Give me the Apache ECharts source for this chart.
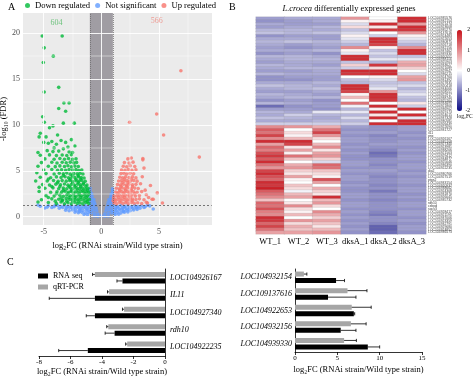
<!DOCTYPE html>
<html><head><meta charset="utf-8">
<script src="https://cdn.jsdelivr.net/npm/echarts@6/dist/echarts.min.js"></script>
<style>html,body{margin:0;padding:0;background:#fff}#c{width:474px;height:378px}</style>
</head><body><div id="c"></div><script>
const FF = "'Liberation Serif','Times New Roman',serif";

// ---------- Panel A: volcano ----------
const volXTicks = [-5, 0, 5];
const volYTicks = [0, 5, 10, 15, 20];
const volXMinor = [-2.5, 2.5, 7.5];
const volYMinor = [2.5, 7.5, 12.5, 17.5];
const fcCut = 1, fdrCut = 1.3;
const countDown = '604', countUp = '566';

const downPts = [
[-5.13,19.7],[-3.4,19.7],[-4.96,18.4],[-4.17,17.5],[-5.04,16.8],[-3.7,14.1],[-4.96,13.6],[-3.25,12.4],[-2.8,12.4],[-3.7,11.8],[-3.1,11.5],[-5.1,10.9],[-4.95,10.3],[-4.2,9.9],[-3.3,10.2],[-2.35,10.2],[-4.5,9.7],[-5.3,9.1],[-5.4,8.7],[-3.8,8.9],[-4.8,8.7],
[-5.0,8.1],[-4.6,8.0],[-4.3,8.2],[-3.9,7.9],[-3.5,8.3],[-3.1,8.1],[-2.6,8.4],[-2.3,7.7],[-4.1,7.5],[-3.3,7.4],[-2.9,7.6],[-5.5,7.0],[-4.7,7.2],[-2.5,7.0],
[-4.6,1.55],[-3.9,1.45],[-3.5,1.6],[-3.2,1.42],[-2.9,1.52],[-2.6,1.4],[-2.35,1.58],[-2.1,1.45],[-1.85,1.5],[-1.6,1.4],[-1.35,1.55],[-1.1,1.45],
[-5.2,1.85],[-4.3,1.95],[-3.7,1.9],[-3.35,1.82],[-3.05,2.0],[-2.75,1.88],[-2.5,1.96],[-2.25,1.84],[-2.0,1.92],[-1.75,1.86],[-1.5,1.98],[-1.25,1.82],[-1.05,1.9],
[-4.8,2.3],[-4.1,2.25],[-3.6,2.35],[-3.3,2.22],[-3.0,2.38],[-2.7,2.28],[-2.45,2.32],[-2.2,2.24],[-1.95,2.36],[-1.7,2.27],[-1.45,2.33],[-1.2,2.25],
[-5.4,2.75],[-4.4,2.65],[-3.85,2.72],[-3.45,2.68],[-3.15,2.78],[-2.85,2.66],[-2.6,2.74],[-2.3,2.7],[-2.05,2.64],[-1.8,2.76],[-1.55,2.69],[-1.3,2.73],[-1.08,2.66],
[-4.9,3.1],[-4.2,3.15],[-3.7,3.05],[-3.3,3.12],[-3.0,3.04],[-2.7,3.16],[-2.45,3.08],[-2.15,3.14],[-1.9,3.06],[-1.65,3.12],[-1.4,3.03],[-1.15,3.1],
[-5.1,3.5],[-4.5,3.45],[-3.95,3.55],[-3.55,3.48],[-3.2,3.56],[-2.9,3.44],[-2.6,3.52],[-2.35,3.46],[-2.05,3.54],[-1.8,3.47],[-1.55,3.53],[-1.25,3.45],
[-4.7,3.9],[-4.15,3.95],[-3.75,3.86],[-3.4,3.94],[-3.05,3.88],[-2.75,3.96],[-2.5,3.85],[-2.2,3.92],[-1.95,3.87],[-1.7,3.95],[-1.4,3.86],
[-5.3,4.3],[-4.4,4.25],[-3.9,4.34],[-3.5,4.27],[-3.15,4.36],[-2.85,4.24],[-2.55,4.33],[-2.3,4.26],[-2.0,4.35],[-1.75,4.28],[-1.5,4.22],
[-4.8,4.7],[-4.1,4.66],[-3.65,4.74],[-3.3,4.68],[-3.0,4.76],[-2.7,4.64],[-2.4,4.72],[-2.1,4.67],[-1.85,4.75],[-1.6,4.65],
[-5.0,5.1],[-4.3,5.14],[-3.8,5.06],[-3.45,5.12],[-3.1,5.05],[-2.8,5.15],[-2.5,5.08],[-2.2,5.13],[-1.95,5.04],[-1.7,5.1],
[-4.6,5.5],[-4.0,5.46],[-3.6,5.54],[-3.2,5.47],[-2.9,5.55],[-2.6,5.45],[-2.3,5.52],[-2.0,5.48],
[-5.2,5.9],[-4.3,5.94],[-3.85,5.86],[-3.4,5.93],[-3.05,5.88],[-2.7,5.95],[-2.4,5.87],[-2.15,5.92],
[-4.9,6.3],[-4.1,6.26],[-3.6,6.34],[-3.2,6.27],[-2.85,6.35],[-2.5,6.25],[-2.2,6.32],
[-5.3,6.7],[-4.5,6.74],[-3.9,6.66],[-3.4,6.72],[-3.0,6.68],[-2.6,6.75],[-4.2,7.1],[-3.7,7.15],[-2.8,7.05],
[-3.0,1.7],[-2.5,1.72],[-2.0,1.7],[-1.5,1.72],[-1.2,1.65],[-2.8,2.1],[-2.3,2.08],[-1.8,2.12],[-1.3,2.1],[-2.9,2.5],[-2.4,2.52],[-1.9,2.48],[-1.4,2.5],[-1.1,2.45],
[-2.6,2.9],[-2.1,2.92],[-1.6,2.88],[-1.2,2.9],[-2.8,3.3],[-2.3,3.32],[-1.8,3.28],[-1.35,3.3],[-2.5,3.7],[-2.0,3.72],[-1.55,3.68],[-2.7,4.1],[-2.2,4.08],[-1.8,4.12],
[-3.3,4.5],[-2.5,4.52],[-2.0,4.48],[-3.6,3.3],[-3.9,2.5],[-4.0,1.7],[-3.4,1.75],[-3.5,2.05],[-3.8,3.7],[-3.3,2.9],[-4.6,4.1],[-4.3,3.3],
[-5.5,5.5],[-5.6,4.8],[-5.7,3.9],[-5.4,3.2],[-5.5,1.6],[-4.6,2.1]
];

const upPts = [
[6.9,15.9],[4.8,11.2],[2.45,10.3],[5.4,8.9],[8.5,6.5],
[3.55,4.35],[4.26,3.4],[4.85,2.6],[4.5,1.9],[3.8,2.9],[4.1,2.1],[3.6,6.2],[2.6,6.4],[3.7,5.3],[5.3,1.5],[4.0,1.5],[3.4,3.6],
[1.1,1.5],[1.35,1.42],[1.6,1.56],[1.85,1.45],[2.1,1.53],[2.35,1.41],[2.6,1.55],[2.85,1.47],[3.15,1.52],[3.5,1.44],[3.9,1.58],
[1.2,1.9],[1.45,1.84],[1.7,1.96],[1.95,1.86],[2.2,1.94],[2.45,1.83],[2.7,1.92],[3.0,1.87],[3.3,1.95],[3.7,1.85],[4.4,1.9],
[1.1,2.3],[1.35,2.26],[1.6,2.35],[1.85,2.24],[2.1,2.33],[2.4,2.27],[2.65,2.36],[2.95,2.25],[3.3,2.32],[3.9,2.4],
[1.25,2.7],[1.5,2.66],[1.75,2.75],[2.0,2.68],[2.25,2.76],[2.5,2.65],[2.8,2.73],[3.1,2.67],[3.5,2.74],
[1.3,3.1],[1.55,3.05],[1.8,3.14],[2.05,3.06],[2.3,3.15],[2.6,3.04],[2.9,3.12],[3.2,3.07],
[1.4,3.5],[1.65,3.46],[1.9,3.54],[2.15,3.45],[2.4,3.55],[2.7,3.47],[3.0,3.53],
[1.5,3.9],[1.75,3.95],[2.0,3.86],[2.25,3.94],[2.5,3.87],[2.8,3.96],[3.1,3.88],
[1.6,4.3],[1.85,4.25],[2.1,4.34],[2.4,4.27],[2.7,4.35],[3.0,4.24],
[1.7,4.7],[1.95,4.75],[2.2,4.66],[2.5,4.73],[2.8,4.68],
[1.75,5.1],[2.05,5.05],[2.35,5.14],[2.65,5.06],[3.0,5.12],
[1.9,5.5],[2.2,5.45],[2.5,5.55],[2.9,5.48],
[2.0,5.9],[2.4,5.85],[2.75,5.95],[2.3,6.3],[3.6,6.35],
[1.2,1.7],[1.7,1.72],[2.2,1.68],[2.7,1.73],[1.5,2.1],[2.0,2.12],[2.5,2.08],[1.4,2.5],[1.9,2.52],[2.4,2.48],[2.9,2.5],[1.6,2.9],[2.1,2.92],[2.6,2.88],
[1.7,3.3],[2.2,3.32],[2.7,3.28],[1.8,3.7],[2.3,3.72],[2.6,4.1],[2.0,4.1],[1.02,1.75],[1.05,2.05]
];

const nsPts = [
[-5.3,1.15],[-4.6,1.2],[-4.1,1.1],[-3.8,1.22],[-3.5,1.12],[-3.2,1.24],[-2.9,1.14],[-2.6,1.2],[-2.3,1.1],[-2.0,1.23],[-1.7,1.13],[-1.4,1.21],[-1.1,1.12],
[1.1,1.2],[1.4,1.11],[1.7,1.23],[2.0,1.13],[2.3,1.21],[2.6,1.1],[2.9,1.22],[3.2,1.12],[3.5,1.2],[3.8,1.1],[4.2,1.18],
[-4.9,0.95],[-4.3,1.0],[-3.65,0.92],[-3.35,1.0],[-3.05,0.9],[-2.75,0.98],[-2.45,0.9],[-2.15,0.97],[-1.85,0.88],[-1.55,0.96],[-1.25,0.9],
[1.25,0.95],[1.55,0.88],[1.85,0.98],[2.15,0.9],[2.45,0.97],[2.75,0.89],[3.05,0.96],[3.35,0.92],[3.7,1.0],[4.5,0.85],
[-3.1,0.72],[-2.8,0.66],[-2.5,0.74],[-2.2,0.65],[-1.9,0.72],[-1.6,0.64],[-1.3,0.7],[1.3,0.68],[1.6,0.74],[1.9,0.65],[2.2,0.72],[2.5,0.66],[2.8,0.74],[3.1,0.8],
[-2.3,0.5],[-2.0,0.44],[-1.7,0.48],[-1.4,0.4],[-1.15,0.46],[1.15,0.42],[1.4,0.48],[1.7,0.42],[2.0,0.5],[2.3,0.52],
[-1.5,0.25],[-1.2,0.22],[1.2,0.24],[1.5,0.28],
[-0.6,0.08],[-0.3,0.05],[0,0.1],[0.3,0.06],[0.6,0.09],
[-0.9,0.4],[-0.6,0.35],[-0.3,0.3],[0.3,0.32],[0.6,0.38],[0.9,0.42],
[-0.9,0.7],[-0.65,0.72],[-0.4,0.66],[0.4,0.68],[0.65,0.74],[0.9,0.7],
[-0.95,1.0],[-0.7,1.02],[-0.45,0.96],[0.45,0.98],[0.7,1.04],[0.95,1.0],
[-0.95,1.3],[-0.75,1.28],[-0.55,1.32],[0.55,1.3],[0.75,1.26],[0.95,1.32],
[-0.95,1.6],[-0.75,1.62],[-0.6,1.55],[0.6,1.58],[0.75,1.64],[0.95,1.6],
[-0.95,1.9],[-0.8,1.92],[-0.65,1.86],[0.65,1.88],[0.8,1.94],[0.95,1.9],
[-0.97,2.2],[-0.8,2.24],[0.8,2.18],[0.97,2.22],[-0.95,2.5],[-0.85,2.54],[0.85,2.48],[0.95,2.52],
[-0.97,2.8],[0.97,2.82],[-0.98,3.1],[0.96,3.05],
[-2.6,1.05],[-2.0,1.06],[-1.4,1.05],[1.4,1.04],[2.0,1.06],[2.6,1.03],[-2.4,0.82],[-1.8,0.84],[-1.2,0.8],[1.2,0.82],[1.8,0.84],[2.4,0.8],
[-1.0,0.6],[1.0,0.6],[-1.9,0.58],[1.9,0.58],[-3.0,1.05],[3.0,1.05],[-4.0,1.25],[4.0,1.25],[-5.5,1.28],[-4.7,1.05]
];

// ---------- Panel B: heatmap ----------
const hmSamples = ['WT_1','WT_2','WT_3','dksA_1','dksA_2','dksA_3'];
const hmGenes = [
'LOC104935576','LOC104932154','LOC104921474','LOC104923608','LOC104935270','LOC109137616','LOC104924483','LOC104922653','LOC104930875','LOC104926718',
'LOC104932156','LOC104937462','LOC104939330','LOC104920551','LOC104938114','LOC104925903','LOC104933627','LOC104921089','LOC104929947','LOC104936215',
'LOC104924760','LOC104931392','LOC104927835','LOC104920418','LOC104934066','LOC104928551','LOC104922917','LOC104938740','LOC104925264','LOC104933499',
'LOC104921806','LOC104936902','LOC104929173','LOC104924015','LOC104937328','LOC104930581','LOC104926439',
'LOC104922690','LOC104931727','il11','pnx','LOC104926167','LOC104935108','LOC104927340','LOC104923981','LOC104938206','LOC104921563',
'LOC104929412','LOC104934877','LOC104925046','LOC104936390','LOC104922235','dio2','LOC104930766','LOC104927519','ptgs2','LOC104933154',
'LOC104920937','LOC104938662','LOC104924308','LOC104931870','LOC104926045','LOC104935732','rdh10','cebpd','socs3','LOC104928417',
'LOC104921195','LOC104937006','LOC104923359','LOC104932791','LOC104929680','LOC104924852','LOC104936573'
];
const wt1 = [-0.8,-0.9,-0.7,-0.8,-0.6,-0.5,-0.9,-0.7,-0.6,-0.7,-0.8,-0.7,-0.9,-0.6,-0.7,-0.8,-0.6,-0.7,-0.8,-0.6,-0.9,-0.9,-0.7,-0.5,-0.7,-0.8,-0.6,-0.7,-0.9,-0.6,-1.2,-0.8,-0.6,-0.7,-0.5,-0.7,-0.4,
1.0,1.4,1.2,1.6,1.0,1.8,0.8,1.3,1.1,1.5,1.7,1.4,1.8,1.2,0.9,1.6,1.8,1.5,1.3,1.8,1.7,1.9,1.4,1.2,1.0,0.5,1.3,1.2,1.5,1.1,1.0,1.8,1.7,1.3,1.6,1.2,0.8];
const wt2 = [-0.7,-0.8,-0.8,-0.7,-0.6,-0.6,-0.8,-0.7,-0.5,-0.8,-0.9,-0.7,-0.8,-0.6,-0.6,-0.7,-0.7,-0.6,-0.8,-0.7,-0.8,-0.9,-0.7,-0.6,-0.6,-0.8,-0.7,-0.6,-0.8,-0.7,-0.9,-0.8,-0.7,-0.4,-0.6,-0.7,-0.4,
0.9,0.0,0.3,0.1,0.6,1.8,1.6,0.2,0.8,0.1,1.2,0.5,0.0,0.7,0.9,0.4,0.2,0.8,0.1,0.0,0.5,0.3,-0.1,0.6,0.8,0.0,0.2,1.0,0.3,0.1,0.6,0.0,0.9,0.3,0.7,0.5,0.8];
const wt3 = [-0.7,-0.7,-0.8,-0.6,-0.7,-0.5,-0.8,-0.8,-0.6,-0.7,-0.8,-0.6,-0.9,-0.7,-0.6,-0.7,-0.8,-0.6,-0.7,-0.7,-0.8,-0.8,-0.6,-0.7,-0.5,-0.7,-0.8,-0.6,-0.9,-0.8,-0.8,-0.9,-0.2,-0.6,-0.7,-0.6,-0.4,
0.7,1.2,1.6,0.9,0.3,0.0,0.6,1.0,0.2,0.8,0.9,0.4,-0.3,1.3,1.2,0.5,0.3,0.1,1.5,0.8,0.0,0.7,0.4,0.2,1.8,0.6,0.9,0.3,0.0,1.0,0.7,0.4,0.8,0.5,0.2,0.6,0.9];
const dks1 = [0.9,0.1,-0.3,0.3,-0.5,-0.3,0.1,-0.2,-0.4,-0.6,1.0,0.1,-0.2,1.8,1.8,-0.5,0.4,-0.4,1.8,1.7,0.0,-0.5,-0.6,1.8,1.8,1.6,0.1,0.6,0.0,1.2,-0.1,-0.6,-0.2,-0.6,-0.3,-0.6,-0.4,
-0.8,-0.9,-0.8,-0.9,-0.8,-0.8,-0.9,-0.8,-0.9,-0.8,-0.9,-0.9,-0.8,-0.8,-0.9,-0.8,-0.9,-0.8,-0.8,-0.9,-0.8,-0.9,-0.9,-0.8,-0.8,-0.9,-0.8,-0.8,-0.9,-0.8,-0.9,-0.8,-0.9,-0.8,-0.9,-0.8,-0.9];
const dks2 = [0.0,0.1,1.8,0.2,1.7,0.0,-0.4,1.8,1.8,1.6,0.1,-0.5,-0.3,-0.5,-0.2,-0.6,1.7,0.3,1.8,1.8,0.1,-0.3,-0.5,-0.4,-0.2,0.9,1.8,1.8,1.7,0.0,1.8,0.1,1.8,0.2,1.8,0.0,1.8,
-0.9,-0.9,-0.8,-1.0,-0.9,-0.9,-0.8,-0.9,-1.0,-1.2,-1.1,-0.9,-0.9,-1.0,-0.9,-0.8,-0.9,-1.0,-0.9,-0.9,-1.0,-0.9,-1.1,-0.9,-0.9,-1.0,-0.9,-0.9,-0.9,-1.0,-1.1,-0.9,-0.9,-1.0,-1.3,-1.3,-1.2];
const dks3 = [1.8,1.8,0.8,1.8,1.7,0.9,0.1,-0.2,-0.4,-0.6,1.0,1.8,1.8,-0.5,-0.2,0.7,0.8,0.4,0.0,-0.3,0.8,0.9,-0.5,-0.3,-0.6,-0.4,-0.2,-0.5,-0.6,0.2,-0.4,1.8,0.0,1.8,-0.2,1.8,1.8,
-0.8,-0.8,-0.9,-0.8,-0.9,-0.8,-0.8,-0.9,-0.8,-0.9,-0.8,-0.8,-0.9,-0.8,-0.8,-0.9,-0.8,-0.9,-0.8,-0.8,-0.9,-0.8,-0.8,-0.9,-0.8,-0.9,-0.8,-0.8,-0.9,-0.8,-0.8,-0.9,-0.8,-0.9,-0.8,-0.8,-0.9];
const cbTicks = [2, 1, 0, -1, -2];

// ---------- Panel C: bars ----------
const leftGenes = ['LOC104926167','IL11','LOC104927340','rdh10','LOC104922235'];
const leftRna = [-2.7,-4.45,-4.45,-3.2,-4.9];
const leftRnaErr = [0.35,2.9,0.55,0.6,1.85];
const leftQpcr = [-4.45,-3.55,-2.6,-3.6,-2.4];
const leftQpcrErr = [0.15,0.1,0.1,0.1,0.1];
const rightGenes = ['LOC104932154','LOC109137616','LOC104922653','LOC104932156','LOC104939330'];
const rightRna = [4.85,3.9,6.95,5.4,8.6];
const rightRnaErr = [1.0,3.3,0.1,1.8,1.4];
const rightQpcr = [1.05,6.2,6.7,6.6,5.8];
const rightQpcrErr = [0.35,2.3,2.3,1.8,1.45];
const leftTicks = [-8, 0, 2];
const rightTicks = [0, 15, 5];

// ---------- build ----------
const cols = [wt1, wt2, wt3, dks1, dks2, dks3];
const hmData = [];
cols.forEach((c, ci) => c.forEach((v, ri) => hmData.push([ci, ri, v])));

const gridLineData = [];
volXTicks.forEach(v => gridLineData.push({xAxis: v, lineStyle: {color: '#fff', width: 0.9, type: 'solid'}}));
volXMinor.forEach(v => gridLineData.push({xAxis: v, lineStyle: {color: '#fff', width: 0.45, type: 'solid'}}));
volYTicks.forEach(v => gridLineData.push({yAxis: v, lineStyle: {color: '#fff', width: 0.9, type: 'solid'}}));
volYMinor.forEach(v => gridLineData.push({yAxis: v, lineStyle: {color: '#fff', width: 0.45, type: 'solid'}}));

const BAR_W = 5, OFF = 3.25, PT = 3.6;
function errSeries(xi, yi, vals, errs, off) {
  return {
    type: 'custom', xAxisIndex: xi, yAxisIndex: yi, z: 4, silent: true,
    data: vals.map((v, i) => [i, v, errs[i]]),
    encode: {x: 1, y: 0},
    renderItem: (params, api) => {
      const i = api.value(0), v = api.value(1), e = api.value(2);
      const s = v < 0 ? -1 : 1;
      const a = api.coord([v, i]), b = api.coord([v + s * e, i]);
      const y = a[1] + off;
      return {type: 'group', children: [
        {type: 'line', shape: {x1: a[0], y1: y, x2: b[0], y2: y}, style: {stroke: '#000', lineWidth: 0.8}},
        {type: 'line', shape: {x1: b[0], y1: y - 1.6, x2: b[0], y2: y + 1.6}, style: {stroke: '#000', lineWidth: 0.8}}
      ]};
    }
  };
}

const axisFont = {fontFamily: FF, color: '#000'};
const chart = echarts.init(document.getElementById('c'), null, {renderer: 'canvas'});
const option = {
  animation: false,
  backgroundColor: '#fff',
  textStyle: {fontFamily: FF},
  grid: [
    {left: 23, top: 13, width: 189, height: 212, show: true, backgroundColor: '#ebebeb', borderWidth: 0, outerBoundsMode: 'none'},
    {left: 256, top: 17, width: 170, height: 217, outerBoundsMode: 'none'},
    {left: 39, top: 269, width: 126, height: 87, outerBoundsMode: 'none'},
    {left: 295, top: 269, width: 127, height: 83, outerBoundsMode: 'none'}
  ],
  xAxis: [
    {gridIndex: 0, type: 'value', min: -6.8, max: 9.6, axisLine: {show: false},
     axisTick: {show: true, customValues: volXTicks, length: 2.5, lineStyle: {color: '#333', width: 0.6}},
     axisLabel: {customValues: volXTicks, fontSize: 8, color: '#4d4d4d', margin: 3, fontFamily: FF},
     splitLine: {show: false},
     name: 'log\u2082FC (RNAi strain/Wild type strain)', nameLocation: 'middle', nameGap: 10,
     nameTextStyle: {fontSize: 8.5, color: '#000', fontFamily: FF}},
    {gridIndex: 1, type: 'category', data: hmSamples, axisLine: {show: false}, axisTick: {show: false},
     axisLabel: {fontSize: 8.5, margin: 3, interval: 0, hideOverlap: false, ...axisFont}, splitLine: {show: false}},
    {gridIndex: 2, type: 'value', min: leftTicks[0], max: leftTicks[1], interval: leftTicks[2],
     axisLine: {show: true, lineStyle: {color: '#000', width: 0.8}},
     axisTick: {show: true, length: 3, lineStyle: {color: '#000', width: 0.8}},
     axisLabel: {fontSize: 7, margin: 3, ...axisFont}, splitLine: {show: false},
     name: 'log\u2082FC (RNAi strain/Wild type strain)', nameLocation: 'middle', nameGap: 9,
     nameTextStyle: {fontSize: 8.5, ...axisFont}},
    {gridIndex: 3, type: 'value', min: rightTicks[0], max: rightTicks[1], interval: rightTicks[2],
     axisLine: {show: true, lineStyle: {color: '#000', width: 0.8}},
     axisTick: {show: true, length: 3, lineStyle: {color: '#000', width: 0.8}},
     axisLabel: {fontSize: 7, margin: 3, ...axisFont}, splitLine: {show: false},
     name: 'log\u2082FC (RNAi strain/Wild type strain)', nameLocation: 'middle', nameGap: 13,
     nameTextStyle: {fontSize: 8.5, ...axisFont}}
  ],
  yAxis: [
    {gridIndex: 0, type: 'value', min: -0.9, max: 22.2, axisLine: {show: false},
     axisTick: {show: true, customValues: volYTicks, length: 2.5, lineStyle: {color: '#333', width: 0.6}},
     axisLabel: {customValues: volYTicks, fontSize: 8, color: '#4d4d4d', margin: 3, fontFamily: FF},
     splitLine: {show: false},
     name: '-log\u2081\u2080 (FDR)', nameLocation: 'middle', nameGap: 13, nameRotate: 90,
     nameTextStyle: {fontSize: 8.5, color: '#000', fontFamily: FF}},
    {gridIndex: 1, type: 'category', data: hmGenes, inverse: true, position: 'right',
     axisLine: {show: false}, axisTick: {show: false},
     axisLabel: {fontSize: 3.4, interval: 0, margin: 2, color: '#444', fontFamily: 'Liberation Sans'}, splitLine: {show: false}},
    {gridIndex: 2, type: 'category', data: leftGenes, inverse: true, position: 'right',
     axisLine: {show: true, lineStyle: {color: '#000', width: 0.8}}, axisTick: {show: false},
     axisLabel: {fontSize: 8, fontStyle: 'italic', margin: 5, ...axisFont}},
    {gridIndex: 3, type: 'category', data: rightGenes, inverse: true, position: 'left',
     axisLine: {show: true, lineStyle: {color: '#000', width: 0.8}}, axisTick: {show: false},
     axisLabel: {fontSize: 8, fontStyle: 'italic', margin: 3, ...axisFont}}
  ],
  legend: [
    {left: 25, top: 1, padding: 0, itemGap: 5, itemWidth: 5, itemHeight: 5, icon: 'circle',
     data: ['Down regulated', 'Not significant', 'Up regulated'],
     textStyle: {fontSize: 8.6, fontFamily: FF, color: '#000'}},
    {left: 38, top: 272, padding: 0, orient: 'vertical', itemGap: 3, itemWidth: 10, itemHeight: 5, icon: 'rect',
     data: ['RNA seq', 'qRT-PCR'], textStyle: {fontSize: 8, fontFamily: FF, color: '#000'}}
  ],
  visualMap: {
    type: 'continuous', seriesIndex: 6, min: -2, max: 2, calculable: false, show: true,
    left: 457, top: 30, itemWidth: 5, itemHeight: 81, padding: 0, text: null,
    inRange: {color: ['#0c0c86', '#ffffff', '#c8141c']}, textStyle: {fontSize: 0}
  },
  series: [
    {name: 'grid', type: 'scatter', xAxisIndex: 0, yAxisIndex: 0, z: 1, silent: true, symbolSize: 0, data: [[0, 0]],
     markLine: {silent: true, symbol: ['none', 'none'], label: {show: false}, data: gridLineData}},
    {name: 'Not significant', type: 'scatter', xAxisIndex: 0, yAxisIndex: 0, symbolSize: PT, data: nsPts, itemStyle: {color: '#619CFF'}},
    {name: 'Down regulated', type: 'scatter', xAxisIndex: 0, yAxisIndex: 0, symbolSize: PT, data: downPts, itemStyle: {color: '#00BA38'}},
    {name: 'Up regulated', type: 'scatter', xAxisIndex: 0, yAxisIndex: 0, symbolSize: PT, data: upPts, itemStyle: {color: '#F8766D'}},
    {name: 'band', type: 'scatter', xAxisIndex: 0, yAxisIndex: 0, z: 5, silent: true, symbolSize: 0, data: [[0, 0]],
     markArea: {silent: true, itemStyle: {color: 'rgba(85,80,92,0.5)'}, data: [[{xAxis: -fcCut}, {xAxis: fcCut}]]},
     markLine: {silent: true, symbol: ['none', 'none'], label: {show: false}, data: [
       {yAxis: fdrCut, lineStyle: {color: '#444', width: 0.7, type: [2, 2]}},
       {xAxis: -fcCut, lineStyle: {color: '#666', width: 0.7, type: [1, 1]}},
       {xAxis: fcCut, lineStyle: {color: '#666', width: 0.7, type: [1, 1]}}
     ]}},
    {name: 'annot', type: 'scatter', xAxisIndex: 0, yAxisIndex: 0, z: 6, silent: true, symbolSize: 0,
     data: [
       {value: [-3.9, 21.1], label: {show: true, formatter: countDown, color: '#4cb860'}},
       {value: [4.8, 21.3], label: {show: true, formatter: countUp, color: '#ef8a80'}}
     ],
     label: {position: 'inside', fontSize: 8, fontFamily: FF}},
    {name: 'heat', type: 'heatmap', xAxisIndex: 1, yAxisIndex: 1, data: hmData,
     itemStyle: {borderColor: 'rgba(150,150,150,0.6)', borderWidth: 0.3}},
    {name: 'qRT-PCR', type: 'bar', xAxisIndex: 2, yAxisIndex: 2, barWidth: BAR_W, barGap: '30%', data: leftQpcr, itemStyle: {color: '#a6a6a6'}},
    {name: 'RNA seq', type: 'bar', xAxisIndex: 2, yAxisIndex: 2, barWidth: BAR_W, barGap: '30%', data: leftRna, itemStyle: {color: '#000'}},
    {name: 'qRT-PCR', type: 'bar', xAxisIndex: 3, yAxisIndex: 3, barWidth: BAR_W, barGap: '30%', data: rightQpcr, itemStyle: {color: '#a6a6a6'}},
    {name: 'RNA seq', type: 'bar', xAxisIndex: 3, yAxisIndex: 3, barWidth: BAR_W, barGap: '30%', data: rightRna, itemStyle: {color: '#000'}},
    errSeries(2, 2, leftQpcr, leftQpcrErr, -OFF),
    errSeries(2, 2, leftRna, leftRnaErr, OFF),
    errSeries(3, 3, rightQpcr, rightQpcrErr, -OFF),
    errSeries(3, 3, rightRna, rightRnaErr, OFF)
  ],
  graphic: [
    {type: 'text', x: 8, y: 2, style: {text: 'A', font: '10px ' + FF, fill: '#000'}},
    {type: 'text', x: 229, y: 2, style: {text: 'B', font: '10px ' + FF, fill: '#000'}},
    {type: 'text', x: 7, y: 257, style: {text: 'C', font: '10px ' + FF, fill: '#000'}},
    {type: 'text', x: 349, y: 9, style: {text: '{i|L.crocea} differentially expressed genes', font: '8.5px ' + FF,
      fill: '#000', align: 'center', verticalAlign: 'middle', textAlign: 'center', textVerticalAlign: 'middle',
      rich: {i: {fontStyle: 'italic', fontSize: 8.5, fontFamily: FF}}}},
    ...cbTicks.map(v => ({type: 'text', x: 470, y: 30 + (2 - v) / 4 * 81,
      style: {text: String(v), font: '5.5px ' + FF, fill: '#000', align: 'right', verticalAlign: 'middle', textAlign: 'right', textVerticalAlign: 'middle'}})),
    {type: 'text', x: 457, y: 114, style: {text: 'log\u2082FC', font: '5.5px ' + FF, fill: '#000'}}
  ]
};
chart.setOption(option);
</script></body></html>
